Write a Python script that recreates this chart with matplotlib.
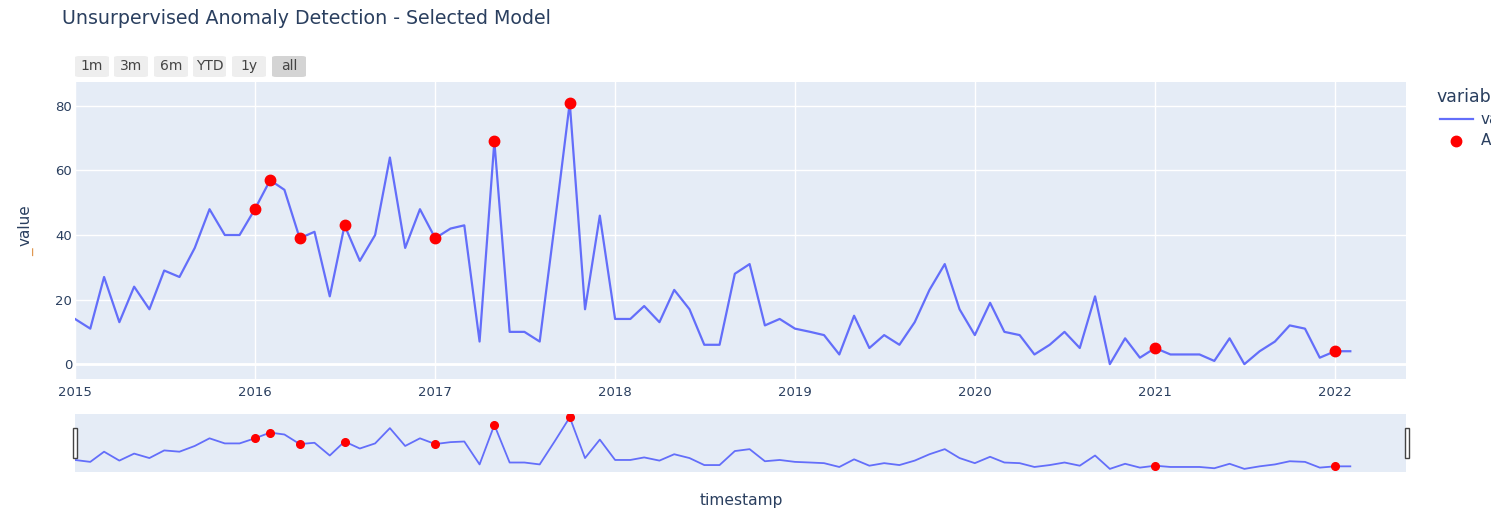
import numpy as np
import pandas as pd
import matplotlib.pyplot as plt
import matplotlib.dates as mdates
from matplotlib.patches import Rectangle, FancyBboxPatch
from matplotlib.lines import Line2D

# monthly values, 2015-01 .. 2022-02
values = [14, 11, 27, 13, 24, 17, 29, 27, 36, 48, 40, 40,
          48, 57, 54, 39, 41, 21, 43, 32, 40, 64, 36, 48,
          39, 42, 43, 7, 69, 10, 10, 7, 44, 81, 17, 46,
          14, 14, 18, 13, 23, 17, 6, 6, 28, 31, 12, 14,
          11, 10, 9, 3, 15, 5, 9, 6, 13, 23, 31, 17,
          9, 19, 10, 9, 3, 6, 10, 5, 21, 0, 8, 2,
          5, 3, 3, 3, 1, 8, 0, 4, 7, 12, 11, 2,
          4, 4]
timestamps = pd.date_range('2015-01-01', periods=len(values), freq='MS')

anomaly_dates = pd.to_datetime(['2016-01-01', '2016-02-01', '2016-04-01', '2016-07-01',
                                '2017-01-01', '2017-05-01', '2017-10-01', '2021-01-01',
                                '2022-01-01'])
anomaly_values = [48, 57, 39, 43, 39, 69, 81, 5, 4]

buttons = ['1m', '3m', '6m', 'YTD', '1y', 'all']

W, H = 1491, 518
LINE = '#636efa'
BG = '#E5ECF6'
TXT = '#2a3f5f'

fig = plt.figure(figsize=(W / 100, H / 100), dpi=100)

def fx(px):
    return px / W

def fy(py):
    return 1 - py / H

x0, x1 = 75, 1406
ax = fig.add_axes([fx(x0), fy(379), fx(x1 - x0), (379 - 82) / H])
ax.set_facecolor(BG)
for s in ax.spines.values():
    s.set_visible(False)

ax.plot(timestamps, values, color=LINE, lw=1.6, zorder=3)
ax.plot(anomaly_dates, anomaly_values, 'o', color='red', ms=7.5, mec='red', zorder=4)

xlim = (mdates.date2num(pd.Timestamp('2015-01-01')), mdates.date2num(pd.Timestamp('2022-05-25')))
ax.set_xlim(xlim)
ax.set_ylim(-4.6, 87.4)
ax.set_yticks([0, 20, 40, 60, 80])
ax.xaxis.set_major_locator(mdates.YearLocator())
ax.xaxis.set_major_formatter(mdates.DateFormatter('%Y'))
ax.grid(True, color='white', lw=1)
ax.axhline(0, color='white', lw=2, zorder=1)
ax.set_axisbelow(True)
ax.tick_params(length=0, labelsize=9.5, labelcolor=TXT, pad=5)
ax.tick_params(axis='y', pad=2)

# y label with orange underscore
fig.text(fx(25), fy(225), 'value', rotation=90, ha='center', va='center', fontsize=11, color=TXT)
fig.text(fx(27), fy(252), '_', rotation=90, ha='center', va='center', fontsize=11, color='#e09850')

# title
fig.text(fx(62), fy(19), 'Unsurpervised Anomaly Detection - Selected Model',
         ha='left', va='center', fontsize=13.7, color=TXT)

# range selector buttons
btn_pos = [(75, 109), (114, 148), (154, 188), (193, 226), (232, 266), (272, 306)]
for lab, (bx0, bx1) in zip(buttons, btn_pos):
    col = '#d4d4d4' if lab == 'all' else '#eeeeee'
    fig.patches.append(FancyBboxPatch((fx(bx0), fy(77)), fx(bx1 - bx0), (77 - 56) / H,
                                      boxstyle='round,pad=0,rounding_size=0.003',
                                      transform=fig.transFigure, fc=col, ec='none'))
    fig.text(fx((bx0 + bx1) / 2), fy(66), lab, ha='center', va='center', fontsize=10, color='#444444')

# range slider
rs = fig.add_axes([fx(x0), fy(472), fx(x1 - x0), (472 - 414) / H])
rs.set_facecolor(BG)
for s in rs.spines.values():
    s.set_visible(False)
rs.plot(timestamps, values, color=LINE, lw=1.3)
rs.plot(anomaly_dates, anomaly_values, 'o', color='red', ms=5.5, mec='red')
rs.set_xlim(xlim)
rs.set_ylim(-4.9, 86.2)
rs.set_xticks([])
rs.set_yticks([])
for hx in (72.5, 1404.5):
    fig.patches.append(Rectangle((fx(hx), fy(458)), fx(4), 30 / H, transform=fig.transFigure,
                                 fc='white', ec='#444444', lw=1))

fig.text(fx(741), fy(501), 'timestamp', ha='center', va='center', fontsize=11.2, color=TXT)

# legend (clipped at figure edge)
fig.text(fx(1436), fy(97), 'variable', ha='left', va='center', fontsize=12.5, color=TXT)
fig.lines.append(Line2D([fx(1440), fx(1473)], [fy(119), fy(119)], transform=fig.transFigure,
                        color=LINE, lw=1.6))
fig.text(fx(1481), fy(119), 'value', ha='left', va='center', fontsize=11, color=TXT)
fig.lines.append(Line2D([fx(1456)], [fy(141)], transform=fig.transFigure, marker='o',
                        color='red', ms=7.5, ls='none'))
fig.text(fx(1481), fy(141), 'Anomaly', ha='left', va='center', fontsize=11, color=TXT)

fig.savefig('out.png', dpi=100)
